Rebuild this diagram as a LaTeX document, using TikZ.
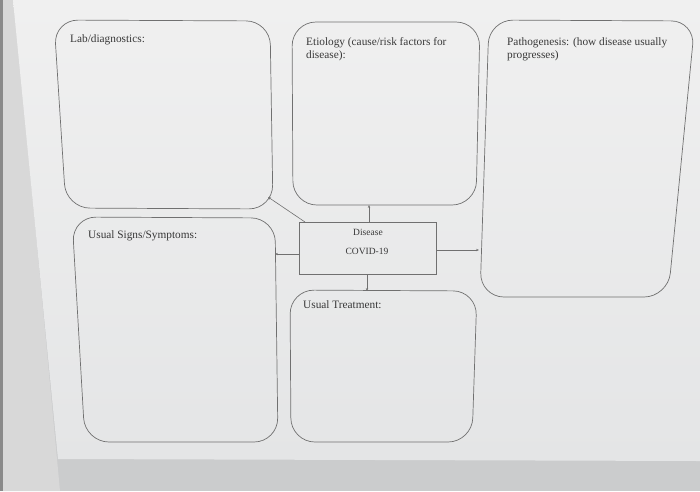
\documentclass[tikz,border=0pt]{standalone}
\usepackage{fontspec}
\setmainfont{Liberation Serif}
\usetikzlibrary{arrows.meta}
\definecolor{bgray}{HTML}{CBCCCD}
\definecolor{lgray}{HTML}{D8D8D8}
\definecolor{dstrip}{HTML}{8A8A8A}
\definecolor{papertop}{HTML}{F0F0F0}
\definecolor{paperbot}{HTML}{E4E5E6}
\definecolor{inkline}{HTML}{707070}
\definecolor{inktext}{HTML}{383838}
\tikzset{
  boxline/.style={draw=inkline, line width=0.7pt, rounded corners=24pt},
  conn/.style={draw=inkline, line width=0.6pt, -{Stealth[length=3pt,width=2.4pt]}},
  lbl/.style={anchor=base west, inner sep=0pt, text=inktext, font=\fontsize{11.3}{13}\selectfont},
  clbl/.style={anchor=base, inner sep=0pt, text=inktext, font=\fontsize{9.5}{11}\selectfont},
  disbox/.style={draw=inkline, line width=0.7pt, minimum width=137pt, minimum height=52pt, inner sep=0pt}
}
\begin{document}
\begin{tikzpicture}[x=1pt,y=-1pt]
\useasboundingbox (0,0) rectangle (700,491);
% background
\fill[bgray] (0,0) rectangle (700,491);
\fill[lgray] (0,0) -- (14,0) -- (60,491) -- (0,491) -- cycle;
\fill[dstrip] (0,0) rectangle (3,491);
\shade[top color=papertop, bottom color=paperbot] (13,0) -- (700,0) -- (700,461) -- (58,459) -- cycle;

% boxes (corners)
\coordinate (labTL) at (54,20);  \coordinate (labTR) at (270,21);
\coordinate (labBR) at (273,209); \coordinate (labBL) at (66,208);
\coordinate (etiTL) at (292,22); \coordinate (etiTR) at (480,22);
\coordinate (etiBR) at (476,205); \coordinate (etiBL) at (293,205);
\coordinate (patTL) at (489,20); \coordinate (patTR) at (695,21);
\coordinate (patBR) at (668,297); \coordinate (patBL) at (480,297);
\coordinate (sigTL) at (72,217); \coordinate (sigTR) at (275,218);
\coordinate (sigBR) at (278,442); \coordinate (sigBL) at (85,442);
\coordinate (treTL) at (290,290); \coordinate (treTR) at (477,291);
\coordinate (treBR) at (472,442); \coordinate (treBL) at (291,442);

\path[boxline] (labTL) -- (labTR) -- (labBR) -- (labBL) -- cycle;
\path[boxline] (etiTL) -- (etiTR) -- (etiBR) -- (etiBL) -- cycle;
\path[boxline] (patTL) -- (patTR) -- (patBR) -- (patBL) -- cycle;
\path[boxline] (sigTL) -- (sigTR) -- (sigBR) -- (sigBL) -- cycle;
\path[boxline] (treTL) -- (treTR) -- (treBR) -- (treBL) -- cycle;

% labels
\node[lbl] (labT) at (70,42) {Lab/diagnostics:};
\node[lbl] (etiT1) at (306,45) {Etiology (cause/risk factors for};
\node[lbl] (etiT2) at (306,58) {disease):};
\node[lbl] (patT1) at (507,45) {Pathogenesis: (how disease usually};
\node[lbl] (patT2) at (507,58) {progresses)};
\node[lbl] (sigT) at (88,238) {Usual Signs/Symptoms:};
\node[lbl] (treT) at (303,308) {Usual Treatment:};

% central box
\node[disbox] (dis) at (367.5,248) {};
\node[clbl] (disT) at (368,235) {Disease};
\node[clbl] (disN) at (367,254) {COVID-19};

% connector end points
\coordinate (eUp) at (369,205);
\coordinate (eLab) at (268,197);
\coordinate (dTL) at (305,222);
\coordinate (eSig) at (275,254);
\coordinate (ePat) at (479,250);
\coordinate (eTre) at (367,291);

\draw[conn] (dis.north -| eUp) -- (eUp);
\draw[conn] (dTL) -- (eLab);
\draw[conn] (dis.west |- eSig) -- (eSig);
\draw[conn] (dis.east |- ePat) -- (ePat);
\draw[conn] (dis.south -| eTre) -- (eTre);
\end{tikzpicture}
\end{document}
